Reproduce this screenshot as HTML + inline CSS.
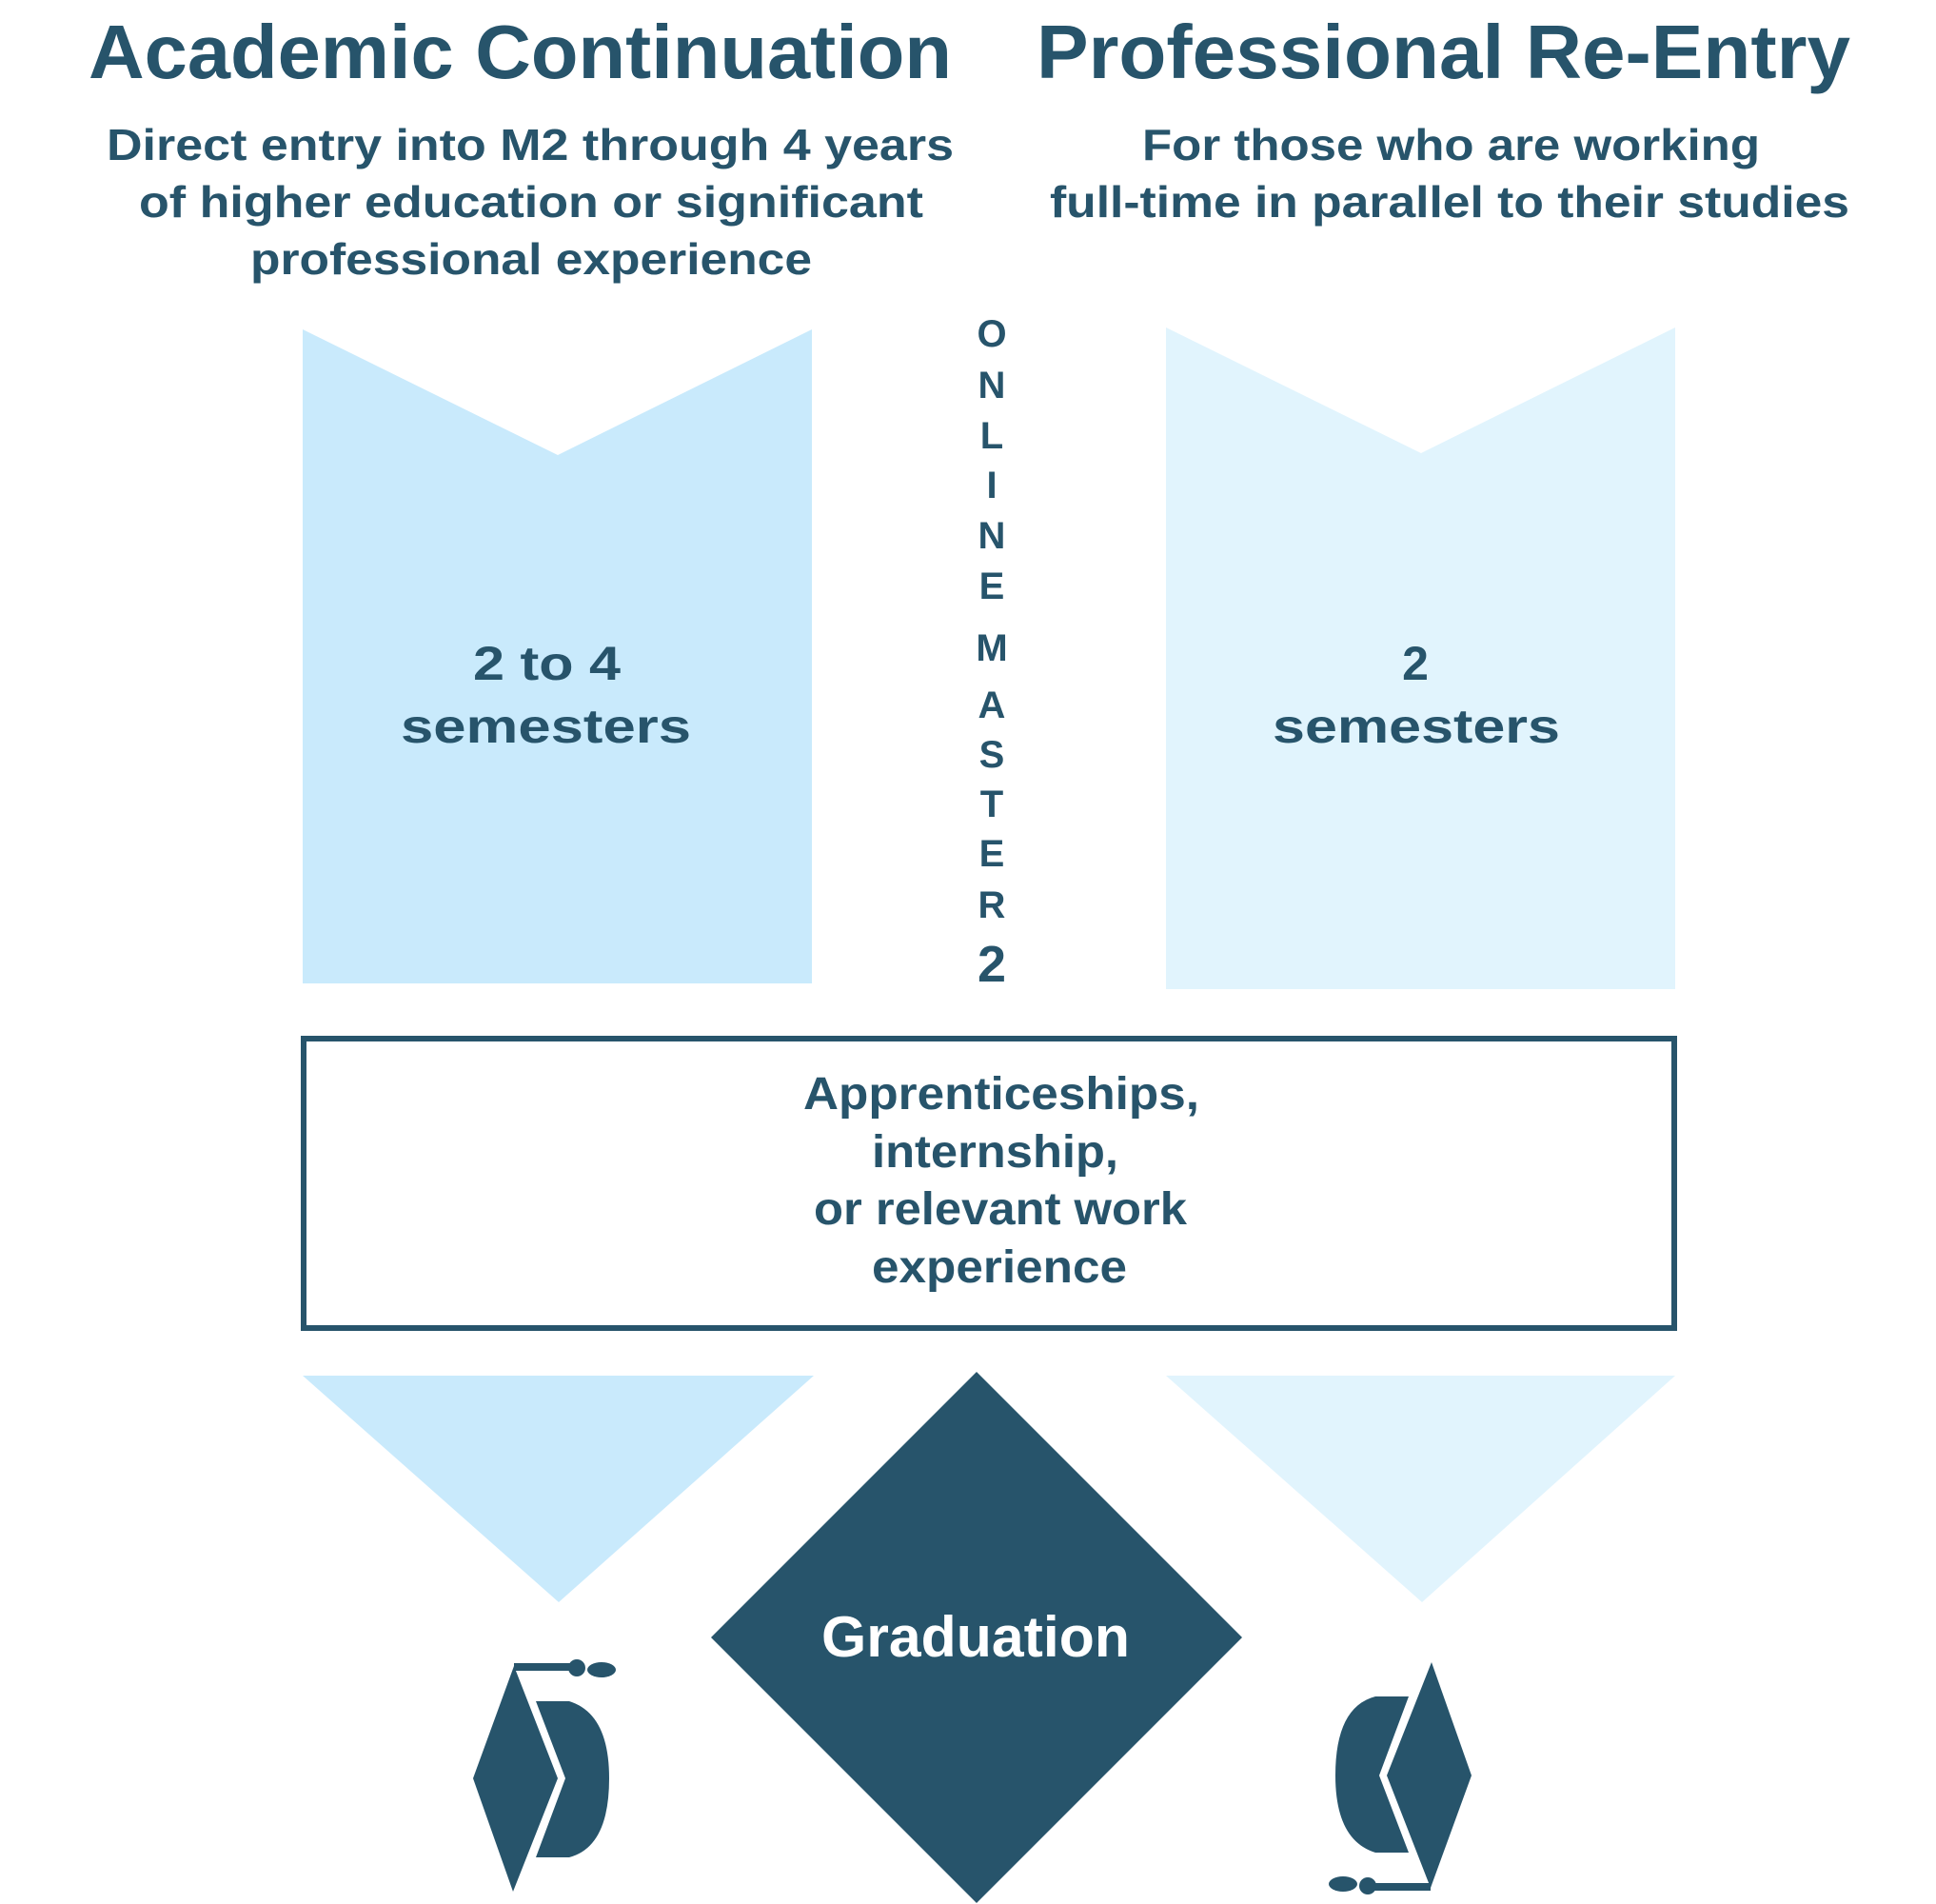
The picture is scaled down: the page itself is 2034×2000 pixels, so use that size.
<!DOCTYPE html>
<html><head><meta charset="utf-8"><style>
html,body{margin:0;padding:0;background:#fff;}
svg{display:block;}
text{font-family:"Liberation Sans Narrow","Liberation Sans",sans-serif;font-weight:bold;fill:#27546b;}
.w{font-family:"Liberation Sans",sans-serif;}
</style></head><body>
<svg width="2034" height="2000" viewBox="0 0 2034 2000" xmlns="http://www.w3.org/2000/svg">
<rect width="2034" height="2000" fill="#fff"/>
<text x="93" y="82" font-size="80" textLength="907" lengthAdjust="spacingAndGlyphs">Academic Continuation</text>
<text x="1089" y="82" font-size="80" textLength="855" lengthAdjust="spacingAndGlyphs">Professional Re-Entry</text>
<text x="112" y="168" font-size="46" textLength="890" lengthAdjust="spacingAndGlyphs">Direct entry into M2 through 4 years</text>
<text x="146" y="228" font-size="46" textLength="824" lengthAdjust="spacingAndGlyphs">of higher education or significant</text>
<text x="263" y="288" font-size="46" textLength="590" lengthAdjust="spacingAndGlyphs">professional experience</text>
<text x="1200" y="168" font-size="46" textLength="649" lengthAdjust="spacingAndGlyphs">For those who are working</text>
<text x="1103" y="228" font-size="46" textLength="840" lengthAdjust="spacingAndGlyphs">full-time in parallel to their studies</text>
<polygon points="318,346 586,478 853,346 853,1033 318,1033" fill="#c9eafc"/>
<polygon points="1225,344 1493,476 1760,344 1760,1039 1225,1039" fill="#e1f4fd"/>
<text class="w" x="497" y="714" font-size="50" textLength="155" lengthAdjust="spacingAndGlyphs">2 to 4</text>
<text class="w" x="421" y="780" font-size="50" textLength="305" lengthAdjust="spacingAndGlyphs">semesters</text>
<text class="w" x="1487" y="714" font-size="50" text-anchor="middle">2</text>
<text class="w" x="1337" y="780" font-size="50" textLength="302" lengthAdjust="spacingAndGlyphs">semesters</text>
<text class="w" x="1042" y="364" text-anchor="middle" font-size="40">O</text>
<text class="w" x="1042" y="418" text-anchor="middle" font-size="40">N</text>
<text class="w" x="1042" y="471" text-anchor="middle" font-size="40">L</text>
<text class="w" x="1042" y="523" text-anchor="middle" font-size="40">I</text>
<text class="w" x="1042" y="576" text-anchor="middle" font-size="40">N</text>
<text class="w" x="1042" y="629" text-anchor="middle" font-size="40">E</text>
<text class="w" x="1042" y="694" text-anchor="middle" font-size="40">M</text>
<text class="w" x="1042" y="754" text-anchor="middle" font-size="40">A</text>
<text class="w" x="1042" y="806" text-anchor="middle" font-size="40">S</text>
<text class="w" x="1042" y="858" text-anchor="middle" font-size="40">T</text>
<text class="w" x="1042" y="910" text-anchor="middle" font-size="40">E</text>
<text class="w" x="1042" y="964" text-anchor="middle" font-size="40">R</text>
<text class="w" x="1042" y="1031" text-anchor="middle" font-size="54">2</text>
<rect x="319" y="1091" width="1440" height="304" fill="none" stroke="#27546b" stroke-width="6"/>
<text x="844" y="1165" font-size="48" textLength="416" lengthAdjust="spacingAndGlyphs">Apprenticeships,</text>
<text x="916" y="1226" font-size="48" textLength="259" lengthAdjust="spacingAndGlyphs">internship,</text>
<text x="855" y="1286" font-size="48" textLength="392" lengthAdjust="spacingAndGlyphs">or relevant work</text>
<text x="916" y="1347" font-size="48" textLength="268" lengthAdjust="spacingAndGlyphs">experience</text>
<polygon points="318,1445 855,1445 587,1683" fill="#c9eafc"/>
<polygon points="1225,1445 1760,1445 1494,1683" fill="#e1f4fd"/>
<polygon points="1026,1441 1305,1720 1026,1999 747,1720" fill="#27546b"/>
<text x="863" y="1740" font-size="60" textLength="324" lengthAdjust="spacingAndGlyphs" style="fill:#fff">Graduation</text>
<g fill="#27546b">
<polygon points="540,1750 586,1868 539,1987 497,1868"/>
<path d="M563,1787 L598,1787 Q640,1800 640,1868 Q640,1940 598,1951 L563,1951 L594,1868 Z"/>
<rect x="540" y="1747" width="66" height="8"/>
<circle cx="606" cy="1752" r="9"/>
<ellipse cx="632" cy="1754" rx="15" ry="8"/>
</g>
<g transform="translate(2043,3733) scale(-1,-1)" fill="#27546b">
<polygon points="540,1750 586,1868 539,1987 497,1868"/>
<path d="M563,1787 L598,1787 Q640,1800 640,1868 Q640,1940 598,1951 L563,1951 L594,1868 Z"/>
<rect x="540" y="1747" width="66" height="8"/>
<circle cx="606" cy="1752" r="9"/>
<ellipse cx="632" cy="1754" rx="15" ry="8"/>
</g>
</svg>
</body></html>
